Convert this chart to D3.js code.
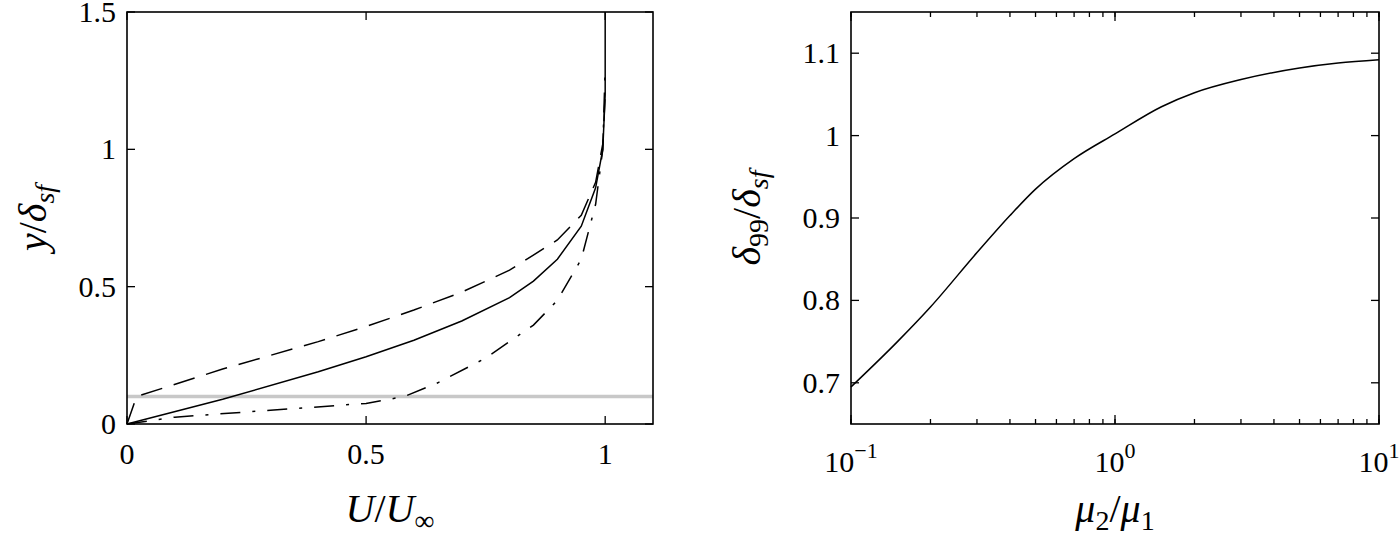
<!DOCTYPE html>
<html><head><meta charset="utf-8">
<script src="https://cdn.jsdelivr.net/npm/d3@7"></script>
<style>body{margin:0;background:#fff}text{font-family:"Liberation Serif",serif;fill:#000}</style>
</head><body><svg id="c" width="1400" height="540"></svg>
<script>
// left panel: U/Uinf vs y/delta
var solidU = [0, 0.2, 0.4, 0.5, 0.6, 0.7, 0.8, 0.85, 0.9, 0.95, 0.98, 0.995, 1.0, 1.0];
var solidY = [0, 0.09, 0.19, 0.245, 0.305, 0.375, 0.46, 0.52, 0.6, 0.72, 0.86, 1.0, 1.2, 1.5];
var dashU = [0, 0.02, 0.2, 0.4, 0.5, 0.6, 0.7, 0.8, 0.9, 0.95, 0.98, 0.995, 1.0];
var dashY = [0, 0.1, 0.2, 0.3, 0.355, 0.415, 0.48, 0.56, 0.67, 0.76, 0.88, 1.02, 1.2];
var ddU = [0, 0.1, 0.3, 0.5, 0.58, 0.65, 0.75, 0.85, 0.9, 0.95, 0.98, 0.995, 1.0];
var ddY = [0, 0.025, 0.05, 0.075, 0.1, 0.15, 0.24, 0.36, 0.45, 0.6, 0.8, 1.0, 1.3];
var greyY = 0.1;
var leftXTicks = [0, 0.5, 1], leftYTicks = [0, 0.5, 1, 1.5];
// right panel: mu2/mu1 vs delta99/delta
var muRatio = [0.1, 0.15, 0.2, 0.3, 0.4, 0.5, 0.7, 1, 1.5, 2, 3, 5, 7, 10];
var deltaR = [0.695, 0.75, 0.792, 0.858, 0.903, 0.935, 0.972, 1.002, 1.035, 1.052, 1.068, 1.082, 1.088, 1.092];
var rightYTicks = [0.7, 0.8, 0.9, 1, 1.1];
var rightXTicks = [0.1, 1, 10];

var svg = d3.select('#c');
var yTop = 12, bot = 424;

function frame(g, x0, x1) {
  g.append('rect').attr('x', x0).attr('y', yTop).attr('width', x1 - x0).attr('height', bot - yTop)
    .attr('fill', 'none').attr('stroke', '#000').attr('stroke-width', 1.6);
}
function xt(g, xs, v, len) {
  g.append('line').attr('x1', xs(v)).attr('x2', xs(v)).attr('y1', bot).attr('y2', bot - len).attr('stroke', '#000').attr('stroke-width', 1.3);
  g.append('line').attr('x1', xs(v)).attr('x2', xs(v)).attr('y1', yTop).attr('y2', yTop + len).attr('stroke', '#000').attr('stroke-width', 1.3);
}
function yt(g, ys, v, x0, x1) {
  g.append('line').attr('x1', x0).attr('x2', x0 + 8).attr('y1', ys(v)).attr('y2', ys(v)).attr('stroke', '#000').attr('stroke-width', 1.3);
  g.append('line').attr('x1', x1).attr('x2', x1 - 8).attr('y1', ys(v)).attr('y2', ys(v)).attr('stroke', '#000').attr('stroke-width', 1.3);
}

// left
var xL = d3.scaleLinear().domain([0, 1.1]).range([127, 653]);
var yL = d3.scaleLinear().domain([0, 1.5]).range([bot, yTop]);
var gL = svg.append('g');
gL.append('line').attr('x1', xL(0)).attr('x2', xL(1.1)).attr('y1', yL(greyY)).attr('y2', yL(greyY))
  .attr('stroke', '#c8c8c8').attr('stroke-width', 3.5);
var line = d3.line().x(function(d){return xL(d[0]);}).y(function(d){return yL(d[1]);});
gL.append('path').attr('d', line(d3.zip(solidU, solidY))).attr('fill', 'none').attr('stroke', '#000').attr('stroke-width', 1.5);
gL.append('path').attr('d', line(d3.zip(dashU, dashY))).attr('fill', 'none').attr('stroke', '#000').attr('stroke-width', 1.5).attr('stroke-dasharray', '22,12');
gL.append('path').attr('d', line(d3.zip(ddU, ddY))).attr('fill', 'none').attr('stroke', '#000').attr('stroke-width', 1.5).attr('stroke-dasharray', '20,12,3,12');
frame(gL, 127, 653);
leftXTicks.forEach(function(v){
  xt(gL, xL, v, 8);
  gL.append('text').attr('x', xL(v)).attr('y', 464).attr('text-anchor', 'middle').attr('font-size', 30).text(v);
});
leftYTicks.forEach(function(v){
  yt(gL, yL, v, 127, 653);
  gL.append('text').attr('x', 116).attr('y', yL(v) + 10).attr('text-anchor', 'end').attr('font-size', 30).text(v);
});
gL.append('text').attr('x', xL(0.55)).attr('y', 522).attr('text-anchor', 'middle').attr('font-size', 40)
  .html('<tspan font-style="italic">U</tspan>/<tspan font-style="italic">U</tspan><tspan font-size="28" dy="8">∞</tspan>');
gL.append('text').attr('transform', 'translate(46,' + ((yTop + bot) / 2) + ') rotate(-90)').attr('text-anchor', 'middle').attr('font-size', 40)
  .html('<tspan font-style="italic">y</tspan>/<tspan font-style="italic">δ</tspan><tspan font-size="28" dy="8" font-style="italic">sf</tspan>');

// right
var xR = d3.scaleLog().domain([0.1, 10]).range([851, 1379]);
var yR = d3.scaleLinear().domain([0.65, 1.15]).range([bot, yTop]);
var gR = svg.append('g');
var lineR = d3.line().x(function(d){return xR(d[0]);}).y(function(d){return yR(d[1]);}).curve(d3.curveMonotoneX);
gR.append('path').attr('d', lineR(d3.zip(muRatio, deltaR))).attr('fill', 'none').attr('stroke', '#000').attr('stroke-width', 1.5);
frame(gR, 851, 1379);
xR.ticks().forEach(function(v){ xt(gR, xR, v, 5); });
rightXTicks.forEach(function(v, i){
  xt(gR, xR, v, 9);
  var t = gR.append('text').attr('x', xR(v)).attr('y', 472).attr('text-anchor', 'middle').attr('font-size', 30);
  t.append('tspan').text('10');
  t.append('tspan').attr('font-size', 22).attr('dy', -14).text(['−1', '0', '1'][i]);
});
rightYTicks.forEach(function(v){
  yt(gR, yR, v, 851, 1379);
  gR.append('text').attr('x', 840).attr('y', yR(v) + 10).attr('text-anchor', 'end').attr('font-size', 30).text(v);
});
gR.append('text').attr('x', 1115).attr('y', 522).attr('text-anchor', 'middle').attr('font-size', 40)
  .html('<tspan font-style="italic">μ</tspan><tspan font-size="28" dy="8">2</tspan><tspan dy="-8">/</tspan><tspan font-style="italic">μ</tspan><tspan font-size="28" dy="8">1</tspan>');
gR.append('text').attr('transform', 'translate(760,' + ((yTop + bot) / 2) + ') rotate(-90)').attr('text-anchor', 'middle').attr('font-size', 40)
  .html('<tspan font-style="italic">δ</tspan><tspan font-size="28" dy="8">99</tspan><tspan dy="-8">/</tspan><tspan font-style="italic">δ</tspan><tspan font-size="28" dy="8" font-style="italic">sf</tspan>');
</script></body></html>
